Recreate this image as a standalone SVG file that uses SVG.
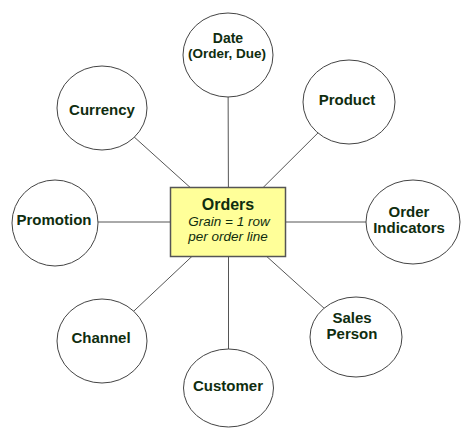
<svg xmlns="http://www.w3.org/2000/svg" width="470" height="444" viewBox="0 0 470 444">
<style>
.conn line{stroke:#555;stroke-width:1}
.node ellipse{fill:#fff;stroke:#444;stroke-width:1}
.lbl{font-family:"Liberation Sans",Arial,sans-serif;font-weight:bold;font-size:15px;fill:#0f2d0f;text-anchor:middle}
.it{font-family:"Liberation Sans",Arial,sans-serif;font-style:italic;font-size:13.5px;fill:#0f2d0f;text-anchor:middle}
</style>
<rect width="470" height="444" fill="#fff"/>
<g id="connectors" class="conn">
<line x1="228.5" y1="222" x2="228" y2="55"/>
<line x1="228.5" y1="222" x2="349" y2="102"/>
<line x1="228.5" y1="222" x2="413" y2="222"/>
<line x1="228.5" y1="222" x2="356" y2="337"/>
<line x1="228.5" y1="222" x2="228.5" y2="388"/>
<line x1="228.5" y1="222" x2="102" y2="341"/>
<line x1="228.5" y1="222" x2="55" y2="222"/>
<line x1="228.5" y1="222" x2="102" y2="108"/>
</g>
<g id="date" class="node"><ellipse cx="228" cy="55" rx="45" ry="42"/><text class="lbl" x="228" y="43" style="font-size:14px">Date</text><text class="lbl" x="227" y="58" style="font-size:13.5px">(Order, Due)</text></g>
<g id="product" class="node"><ellipse cx="349" cy="102" rx="46" ry="42"/><text class="lbl" x="347" y="105">Product</text></g>
<g id="order-indicators" class="node"><ellipse cx="413" cy="222" rx="47" ry="42"/><text class="lbl" x="409" y="217">Order</text><text class="lbl" x="409" y="233">Indicators</text></g>
<g id="sales-person" class="node"><ellipse cx="356" cy="337" rx="46" ry="40"/><text class="lbl" x="352" y="323">Sales</text><text class="lbl" x="352" y="339">Person</text></g>
<g id="customer" class="node"><ellipse cx="228.5" cy="388" rx="45" ry="39"/><text class="lbl" x="228" y="391">Customer</text></g>
<g id="channel" class="node"><ellipse cx="102" cy="341" rx="45" ry="42"/><text class="lbl" x="101" y="343">Channel</text></g>
<g id="promotion" class="node"><ellipse cx="55" cy="223" rx="43" ry="43"/><text class="lbl" x="54" y="225">Promotion</text></g>
<g id="currency" class="node"><ellipse cx="102" cy="108" rx="45" ry="42"/><text class="lbl" x="102" y="115">Currency</text></g>
<g id="orders">
<rect x="170.5" y="187.5" width="115" height="69" fill="#ffff99" stroke="#555" stroke-width="1.5"/>
<text class="lbl" x="228" y="210" style="font-size:16px">Orders</text>
<text class="it" x="229" y="226">Grain = 1 row</text>
<text class="it" x="228" y="241">per order line</text>
</g>
</svg>
